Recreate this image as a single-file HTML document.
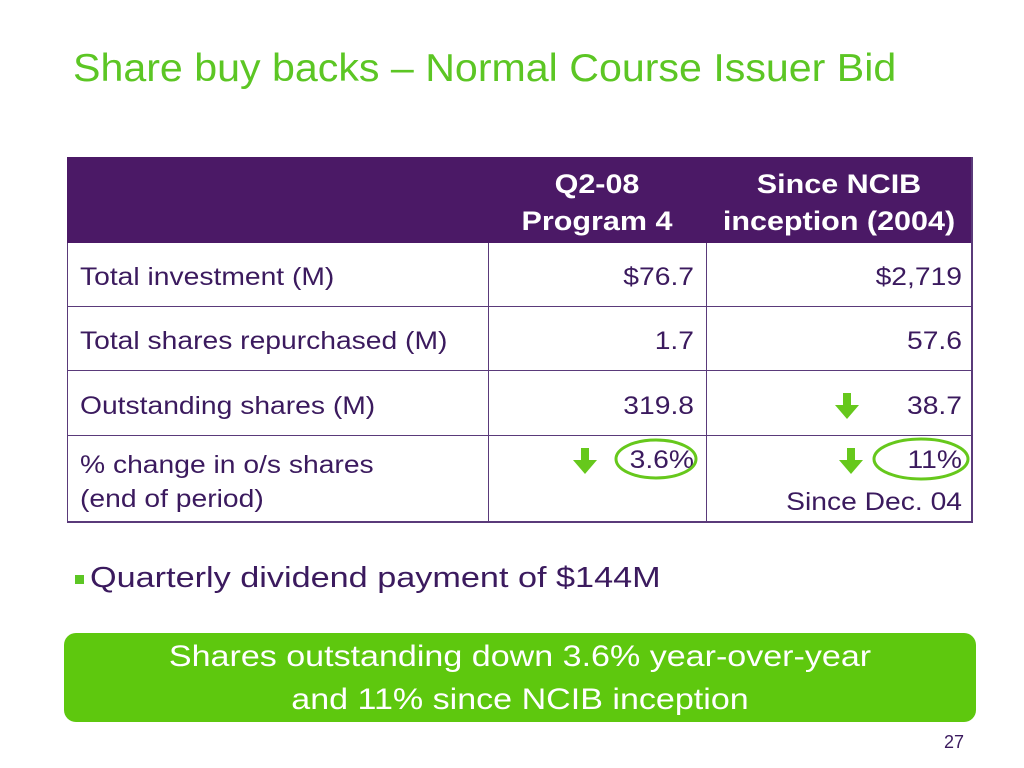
<!DOCTYPE html>
<html><head><meta charset="utf-8"><style>
body{margin:0;width:1024px;height:768px;background:#fff;position:relative;overflow:hidden;font-family:"Liberation Sans",Arial,sans-serif}
.a{position:absolute}
.t{color:#3b1a5e;font-size:25px;white-space:nowrap;transform:scaleX(1.13);transform-origin:left center}
.r{text-align:right;transform-origin:right center}
.ln{position:absolute;background:#5a3a7a}
</style></head><body>
<div class="a" style="left:73px;top:47px;font-size:39px;color:#5cc624;white-space:nowrap;transform:scaleX(1.055);transform-origin:left center">Share buy backs – Normal Course Issuer Bid</div>

<div class="a" style="left:67px;top:157px;width:905px;height:86px;background:#4b1966"></div>
<div class="a" style="left:488px;top:166px;width:218px;text-align:center;color:#fff;font-weight:bold;font-size:27px;line-height:37px;transform:scaleX(1.13)">Q2-08<br>Program 4</div>
<div class="a" style="left:706px;top:166px;width:266px;text-align:center;color:#fff;font-weight:bold;font-size:27px;line-height:37px;transform:scaleX(1.13)">Since NCIB<br>inception (2004)</div>

<div>
<div class="ln" style="left:67px;top:243px;width:1px;height:279px"></div>
<div class="ln" style="left:971px;top:157px;width:2px;height:366px"></div>
<div class="ln" style="left:488px;top:243px;width:1px;height:279px"></div>
<div class="ln" style="left:706px;top:243px;width:1px;height:279px"></div>
<div class="ln" style="left:67px;top:306px;width:905px;height:1px"></div>
<div class="ln" style="left:67px;top:370px;width:905px;height:1px"></div>
<div class="ln" style="left:67px;top:435px;width:905px;height:1px"></div>
<div class="ln" style="left:67px;top:521px;width:906px;height:2px"></div>
</div>

<div class="a t" style="left:80px;top:263px">Total investment (M)</div>
<div class="a t r" style="left:488px;width:206px;top:263px">$76.7</div>
<div class="a t r" style="left:706px;width:256px;top:263px">$2,719</div>

<div class="a t" style="left:80px;top:327px">Total shares repurchased (M)</div>
<div class="a t r" style="left:488px;width:206px;top:327px">1.7</div>
<div class="a t r" style="left:706px;width:256px;top:327px">57.6</div>

<div class="a t" style="left:80px;top:392px">Outstanding shares (M)</div>
<div class="a t r" style="left:488px;width:206px;top:392px">319.8</div>
<div class="a t r" style="left:706px;width:256px;top:392px">38.7</div>

<div class="a t" style="left:80px;top:448px;line-height:34px">% change in o/s shares<br>(end of period)</div>
<div class="a t r" style="left:488px;width:206px;top:446px">3.6%</div>
<div class="a t r" style="left:706px;width:256px;top:446px">11%</div>
<div class="a t r" style="left:706px;width:256px;top:488px">Since Dec. 04</div>

<svg class="a" style="left:0;top:0" width="1024" height="768">
<g fill="#66c81c">
<path d="M581,393h8v12h8l-12,14l-12,-14h8z" transform="translate(262,0)"/>
<path d="M581,448h8v12h8l-12,14l-12,-14h8z"/>
<path d="M581,448h8v12h8l-12,14l-12,-14h8z" transform="translate(266,0)"/>
</g>
<ellipse cx="656" cy="459" rx="40" ry="19" fill="none" stroke="#66c81c" stroke-width="3"/>
<ellipse cx="921" cy="459" rx="47" ry="20" fill="none" stroke="#66c81c" stroke-width="3"/>
</svg>

<div class="a" style="left:75px;top:575px;width:9px;height:9px;background:#5cc624"></div>
<div class="a" style="left:90px;top:562px;font-size:29px;color:#3b1a5e;white-space:nowrap;transform:scaleX(1.18);transform-origin:left center">Quarterly dividend payment of $144M</div>

<div class="a" style="left:64px;top:633px;width:912px;height:89px;background:#5ec80e;border-radius:12px"></div>
<div class="a" style="left:64px;top:635px;width:912px;color:#fff;font-size:30px;text-align:center;line-height:43px;transform:scaleX(1.135)">Shares outstanding down 3.6% year-over-year<br>and 11% since NCIB inception</div>

<div class="a" style="left:944px;top:732px;font-size:18px;color:#3b1a5e">27</div>
</body></html>
